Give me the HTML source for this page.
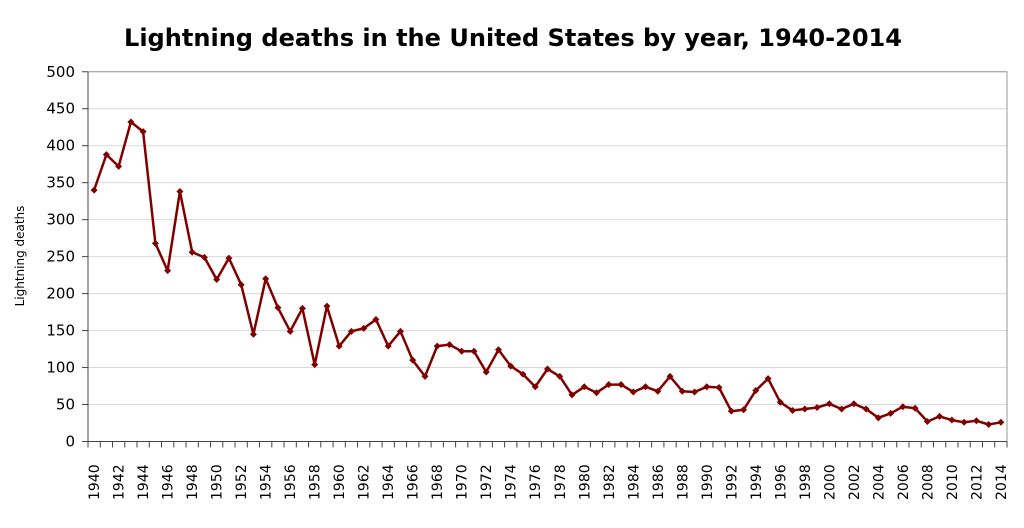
<!DOCTYPE html>
<html><head><meta charset="utf-8"><style>
body{margin:0;background:#fff;}
</style></head><body>
<svg width="1024" height="523" xmlns="http://www.w3.org/2000/svg" font-family="'DejaVu Sans','Liberation Sans',sans-serif">
<rect width="1024" height="523" fill="#fff"/>
<text x="513" y="46" text-anchor="middle" font-size="24" font-weight="bold" textLength="778" lengthAdjust="spacingAndGlyphs">Lightning deaths in the United States by year, 1940-2014</text>
<g id="grid"></g>
<text transform="translate(24,256) rotate(-90)" text-anchor="middle" font-size="12">Lightning deaths</text>
<g id="plot"></g>
</svg>
<script>
var data=[340,388,372,432,419,268,231,338,256,249,219,248,212,145,220,181,149,180,104,183,129,149,153,165,129,149,110,88,129,131,122,122,94,124,102,91,74,98,88,63,74,66,77,77,67,74,68,88,68,67,74,73,41,43,69,85,53,42,44,46,51,44,51,44,32,38,47,45,27,34,29,26,28,23,26];
var ns="http://www.w3.org/2000/svg",svg=document.querySelector('svg'),g=document.getElementById('grid'),p=document.getElementById('plot');
var L=88,R=1007,Y0=441.5,k=0.7395,dx=(R-L)/75;
function el(t,a,par,txt){var e=document.createElementNS(ns,t);for(var q in a)e.setAttribute(q,a[q]);if(txt!==undefined)e.textContent=txt;(par||svg).appendChild(e);return e;}
for(var v=0;v<=500;v+=50){var y=Y0-v*k;
 if(v>0)el('line',{x1:L,x2:R,y1:y,y2:y,stroke:'#d9d9d9','stroke-width':1},g);
 el('line',{x1:L-6,x2:L,y1:y,y2:y,stroke:'#444'},g);
 el('text',{x:L-13,y:y+5,'text-anchor':'end','font-size':15},g,v);}
el('rect',{x:L,y:Y0-500*k,width:R-L,height:500*k,fill:'none',stroke:'#999'},g);
el('line',{x1:L,x2:L,y1:Y0-500*k,y2:Y0,stroke:'#444'},g);
el('line',{x1:L,x2:R,y1:Y0,y2:Y0,stroke:'#444'},g);
for(var i=0;i<=75;i++){var x=L+i*dx;el('line',{x1:x,x2:x,y1:Y0,y2:Y0+6,stroke:'#444'},g);}
for(var i=0;i<75;i+=2){var x=L+(i+0.5)*dx;
 el('text',{transform:'translate('+(x+5)+',500) rotate(-90)','font-size':14},g,1940+i);}
var pts=data.map(function(d,i){return (L+(i+0.5)*dx).toFixed(1)+','+(Y0-d*k).toFixed(1);});
el('polyline',{points:pts.join(' '),fill:'none',stroke:'#800000','stroke-width':2.5,'stroke-linejoin':'round'},p);
data.forEach(function(d,i){var x=L+(i+0.5)*dx,y=Y0-d*k;
 el('polygon',{points:(x)+','+(y-3.5)+' '+(x+3.5)+','+y+' '+x+','+(y+3.5)+' '+(x-3.5)+','+y,fill:'#800000'},p);});
</script>
</body></html>
